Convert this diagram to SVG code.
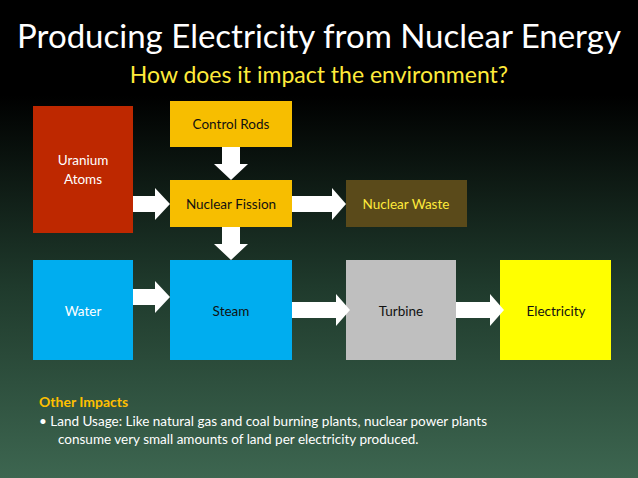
<svg xmlns="http://www.w3.org/2000/svg" width="638" height="478" viewBox="0 0 638 478">
<defs>
<linearGradient id="bg" x1="0" y1="0" x2="0" y2="1">
<stop offset="0" stop-color="#000"/><stop offset="0.2" stop-color="#000"/><stop offset="0.6" stop-color="#1f3a2c"/><stop offset="1" stop-color="#3d6650"/>
</linearGradient>
<style>
text{font-family:Lato,"Open Sans",sans-serif;font-size:13.5px;text-anchor:middle}
.a{fill:#fff}
</style>
</defs>
<rect width="638" height="478" fill="url(#bg)"/>
<text x="319" y="48" style="font-size:33px" fill="#fff">Producing Electricity from Nuclear Energy</text>
<text x="319" y="83" style="font-size:23px" fill="#ffeb3b">How does it impact the environment?</text>
<g id="uranium"><rect x="33" y="106" width="100" height="127" fill="#be2800"/><text x="83" y="165" fill="#fff">Uranium</text><text x="83" y="184" fill="#fff">Atoms</text></g>
<g id="control"><rect x="170" y="101" width="122" height="46" fill="#f7be00"/><text x="231" y="129" fill="#111">Control Rods</text></g>
<g id="fission"><rect x="170" y="180" width="122" height="47" fill="#f7be00"/><text x="231" y="209" fill="#111">Nuclear Fission</text></g>
<g id="waste"><rect x="346" y="180" width="121" height="47" fill="#5a4a1a"/><text x="406" y="209" fill="#ffeb3b">Nuclear Waste</text></g>
<g id="water"><rect x="33" y="260" width="100" height="100" fill="#00adef"/><text x="83" y="316" fill="#fff">Water</text></g>
<g id="steam"><rect x="170" y="260" width="122" height="100" fill="#00adef"/><text x="231" y="316" fill="#111">Steam</text></g>
<g id="turbine"><rect x="346" y="260" width="110" height="100" fill="#bfbfbf"/><text x="401" y="316" fill="#111">Turbine</text></g>
<g id="electricity"><rect x="500" y="260" width="111" height="100" fill="#ffff00"/><text x="556" y="316" fill="#111">Electricity</text></g>
<g id="connectors" class="a">
<polygon points="222,147 240,147 240,164 248,164 231,180 214,164 222,164"/>
<polygon points="222,227 240,227 240,244 248,244 231,260 214,244 222,244"/>
<polygon points="133,196 155,196 155,188 170,204 155,220 155,212 133,212"/>
<polygon points="292,196 332,196 332,188 346,204 332,220 332,212 292,212"/>
<polygon points="133,289 155,289 155,281 170,297 155,313 155,305 133,305"/>
<polygon points="292,302 336,302 336,294 350,310 336,326 336,318 292,318"/>
<polygon points="456,302 490,302 490,294 504,310 490,326 490,318 456,318"/>
</g>
<text x="39" y="407" style="font-size:14px;font-weight:bold;text-anchor:start" fill="#ffc000">Other Impacts</text>
<text x="39" y="426" style="text-anchor:start" fill="#fff">•  Land Usage:  Like natural gas and coal burning plants, nuclear power plants</text>
<text x="58" y="444" style="text-anchor:start" fill="#fff">consume very small amounts of land per electricity produced.</text>
</svg>
